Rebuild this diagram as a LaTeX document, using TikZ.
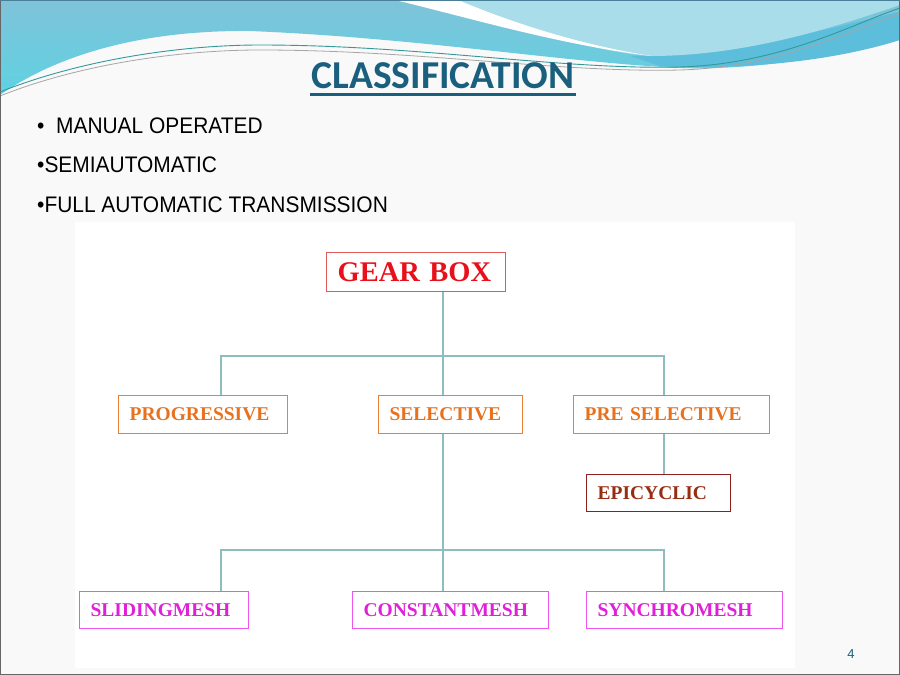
\documentclass[tikz,border=0pt]{standalone}
\usepackage{fontspec}
\setmainfont{Liberation Serif}
\newfontfamily\bulletfont{Liberation Sans}
\newfontfamily\titlefont{Carlito}
\usetikzlibrary{calc}
\definecolor{titlecol}{HTML}{1B5F7E}
\definecolor{conncol}{HTML}{8EBDBD}
\definecolor{redtxt}{HTML}{E8101A}
\definecolor{redbrd}{HTML}{E05A5A}
\definecolor{orgtxt}{HTML}{E8711E}
\definecolor{orgbrd}{HTML}{EA8035}
\definecolor{brntxt}{HTML}{962E12}
\definecolor{brnbrd}{HTML}{8E2020}
\definecolor{magtxt}{HTML}{E020D8}
\definecolor{magbrd}{HTML}{EE55EE}
\definecolor{bandA}{HTML}{7FC3D9}
\definecolor{bandB}{HTML}{5FD2E2}
\definecolor{lightband}{HTML}{A9DDE9}
\definecolor{midband}{HTML}{5DBEDC}
\tikzset{
  x=1pt, y=-1pt,
  gbox/.style={draw, line width=1.2pt, anchor=north west, inner xsep=11pt, inner ysep=0pt,
    align=left, font=\bfseries\fontsize{19.5}{22}\selectfont},
  connector/.style={draw=conncol, line width=1.3pt},
  bullet/.style={anchor=base west, inner sep=0pt, font=\bulletfont\fontsize{22.5}{25}\selectfont}
}
\begin{document}
\begin{tikzpicture}
\useasboundingbox (0,0) rectangle (900,675);
% slide background
\fill[black!2.5] (0,0) rectangle (900,675);
\fill[white] (75,222) rectangle (795,668);
% top wave decoration
\shade[top color=bandA, bottom color=bandB] (0,0) -- (900,0) -- (900,35)
  .. controls (820,62) and (740,70) .. (680,68)
  .. controls (560,62) and (420,38) .. (250,31)
  .. controls (130,30) and (50,60) .. (0,95) -- cycle;
\fill[midband] (630,56) .. controls (740,55) and (840,25) .. (900,12) -- (900,40)
  .. controls (830,62) and (740,70) .. (660,66) -- cycle;
\fill[lightband] (455,0) .. controls (520,25) and (580,50) .. (650,56)
  .. controls (750,56) and (840,25) .. (900,5) -- (900,0) -- cycle;
\fill[white] (395,0) .. controls (470,18) and (560,45) .. (652,56)
  .. controls (580,45) and (510,22) .. (458,0) -- cycle;
\draw[teal!80, line width=0.9pt] (0,92) .. controls (80,60) and (180,45) .. (260,45)
  .. controls (420,45) and (560,70) .. (680,67) .. controls (780,64) and (850,25) .. (900,8);
\draw[gray!70, line width=0.8pt] (0,96) .. controls (80,64) and (180,50) .. (260,50)
  .. controls (420,50) and (560,73) .. (680,70) .. controls (780,67) and (850,30) .. (900,14);
% slide border
\draw[gray!80!black, line width=0.8pt] (0.4,0.4) rectangle (899.6,674.6);
\draw[titlecol!80, line width=1pt] (0,0.5) -- (900,0.5);
% title
\node[anchor=base, inner sep=0pt, text=titlecol, font=\titlefont\bfseries\fontsize{39.5}{42}\selectfont] (title) at (443,88) {CLASSIFICATION};
\draw[titlecol, line width=2.5pt] (310,94.5) -- (576,94.5);
% bullets
\node[bullet] (b1) at (37,133) {\scalebox{0.93}[1]{\textbullet\ \ MANUAL OPERATED}};
\node[bullet] (b2) at (37,172) {\scalebox{0.93}[1]{\textbullet SEMIAUTOMATIC}};
\node[bullet] (b3) at (37,212) {\scalebox{0.93}[1]{\textbullet FULL AUTOMATIC TRANSMISSION}};
% boxes
\node[gbox, draw=redbrd, text=redtxt, text width=157pt, minimum height=39pt,
  font=\bfseries\fontsize{28.5}{30}\selectfont] (gear) at (326,252) {GEAR BOX};
\node[gbox, draw=orgbrd, text=orgtxt, text width=147pt, minimum height=38pt] (prog) at (118,395) {PROGRESSIVE};
\node[gbox, draw=orgbrd, text=orgtxt, text width=122pt, minimum height=38pt] (sel) at (378,395) {SELECTIVE};
\node[gbox, draw=orgbrd, text=orgtxt, text width=174pt, minimum height=38pt] (pre) at (573,395) {PRE SELECTIVE};
\node[gbox, draw=brnbrd, text=brntxt, text width=122pt, minimum height=37pt] (epi) at (586,474) {EPICYCLIC};
\node[gbox, draw=magbrd, text=magtxt, text width=147pt, minimum height=37pt] (slide) at (79,591) {SLIDINGMESH};
\node[gbox, draw=magbrd, text=magtxt, text width=174pt, minimum height=37pt] (const) at (352,591) {CONSTANTMESH};
\node[gbox, draw=magbrd, text=magtxt, text width=174pt, minimum height=37pt] (sync) at (586,591) {SYNCHROMESH};
% junctions
\coordinate (j1) at (443,356);
\coordinate (jl1) at (221,356);
\coordinate (jr1) at (664,356);
\coordinate (j2) at (443,550);
\coordinate (jl2) at (221,550);
\coordinate (jr2) at (664,550);
% connectors
\draw[connector] (j1 |- gear.south) -- (j1 |- sel.north);
\draw[connector] (jl1 |- prog.north) -- (jl1) -- (jr1) -- (jr1 |- pre.north);
\draw[connector] (jr1 |- pre.south) -- (jr1 |- epi.north);
\draw[connector] (j2 |- sel.south) -- (j2 |- const.north);
\draw[connector] (jl2 |- slide.north) -- (jl2) -- (jr2) -- (jr2 |- sync.north);
% page number
\node[anchor=base, inner sep=0pt, text=titlecol, font=\bulletfont\fontsize{13}{15}\selectfont] (pnum) at (851,658) {4};
\end{tikzpicture}
\end{document}
